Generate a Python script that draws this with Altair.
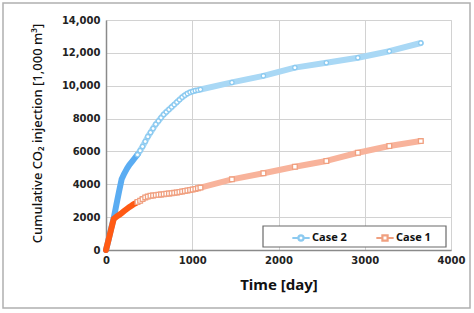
import altair as alt
import pandas as pd

# Case 2 (blue, circles)
c2_early_day = [0, 31, 59, 90, 120, 151, 181, 212, 243, 273, 304, 334, 365]
c2_early_val = [0, 650, 1300, 1950, 2750, 3550, 4300, 4650, 4950, 5200, 5400, 5600, 5800]
c2_day = [365, 396, 424, 455, 485, 516, 546, 577, 608, 638, 669, 699, 730, 761, 791, 822,
          852, 883, 914, 944, 975, 1005, 1036, 1066, 1095, 1460, 1825, 2190, 2555, 2920, 3285, 3650]
c2_val = [5800, 6050, 6300, 6600, 6900, 7150, 7400, 7650, 7850, 8050, 8250, 8400, 8550, 8700, 8850, 9000,
          9150, 9300, 9420, 9520, 9600, 9650, 9700, 9730, 9770, 10200, 10600, 11100, 11400, 11700, 12100, 12600]

# Case 1 (orange, squares)
c1_early_day = [0, 31, 59, 90, 120, 151, 181, 212, 243, 273, 304, 334, 365]
c1_early_val = [0, 650, 1250, 1900, 2020, 2130, 2250, 2380, 2500, 2620, 2730, 2830, 2920]
c1_day = [365, 396, 424, 455, 485, 516, 546, 577, 608, 638, 669, 699, 730, 761, 791, 822,
          852, 883, 914, 944, 975, 1005, 1036, 1066, 1095, 1460, 1825, 2190, 2555, 2920, 3285, 3650]
c1_val = [2920, 3000, 3100, 3200, 3250, 3300, 3320, 3340, 3360, 3380, 3400, 3420, 3440, 3460, 3480, 3500,
          3530, 3560, 3590, 3620, 3650, 3680, 3720, 3760, 3800, 4300, 4670, 5070, 5420, 5920, 6330, 6630]

series_names = ["Case 2", "Case 1"]
light_colors = ["#a9d8f5", "#f8b39b"]
dark_colors = ["#5aacf2", "#ff5a14"]
marker_colors = ["#8ccaf0", "#f0a080"]

x_ticks = [0, 1000, 2000, 3000, 4000]
y_ticks = [0, 2000, 4000, 6000, 8000, 10000, 12000, 14000]

df2e = pd.DataFrame({"day": c2_early_day, "val": c2_early_val})
df2 = pd.DataFrame({"day": c2_day, "val": c2_val})
df1e = pd.DataFrame({"day": c1_early_day, "val": c1_early_val})
df1 = pd.DataFrame({"day": c1_day, "val": c1_val})
df_leg = pd.DataFrame({"day": c2_day + c1_day, "val": c2_val + c1_val,
                       "series": ["Case 2"] * len(c2_day) + ["Case 1"] * len(c1_day)})

x_enc = alt.X("day:Q", scale=alt.Scale(domain=[0, 4000], nice=False, zero=False),
              axis=alt.Axis(values=x_ticks, title="Time [day]", labelFont="DejaVu Sans",
                            labelExpr="datum.value", labelFlush=False,
                            labelFontWeight="bold", labelFontSize=10, labelColor="#222",
                            labelPadding=5, tickSize=0, domainColor="#8a8a8a", domainWidth=1.5,
                            gridColor="#d2d2d2", titleFont="Noto Sans", titleFontSize=15,
                            titleFontWeight="bold", titleColor="#111", titlePadding=12,
                            labelOverlap=False))
y_enc = alt.Y("val:Q", scale=alt.Scale(domain=[0, 14000], nice=False, zero=False),
              axis=alt.Axis(values=y_ticks, title="Cumulative CO₂ injection [1,000 m³]",
                            labelExpr="datum.value >= 10000 ? format(datum.value, ',') : datum.value",
                            labelFont="DejaVu Sans", labelFontWeight="bold", labelFontSize=10,
                            labelColor="#222", labelPadding=6, tickSize=0, domainColor="#8a8a8a",
                            domainWidth=1.5, gridColor="#d2d2d2", titleFont="Noto Sans",
                            titleFontSize=13, titleFontWeight=500, titleColor="#111",
                            titleX=-69, titleY=113, titleAngle=-90, titleAlign="center",
                            titleBaseline="middle", labelOverlap=False, labelFlush=False))


def line(df, color, width=6):
    return alt.Chart(df).mark_line(color=color, strokeWidth=width, strokeCap="round",
                                   strokeJoin="round").encode(x=x_enc, y=y_enc)


def pts(df, color, shape, size):
    return alt.Chart(df).mark_point(shape=shape, filled=False, fill="white", fillOpacity=1,
                                    stroke=color, strokeWidth=1.3, size=size, opacity=1
                                    ).encode(x=x_enc, y=y_enc)


frame = alt.Chart(pd.DataFrame({"a": [0]})).mark_rect(
    fill="transparent", stroke="#b0b0b0", strokeWidth=1.5
).encode(x=alt.value(-103), x2=alt.value(364), y=alt.value(-17), y2=alt.value(288))

legend_box = alt.Chart(pd.DataFrame({"a": [0]})).mark_rect(
    fill="white", stroke="#6a6a6a", strokeWidth=1.2
).encode(x=alt.value(157), x2=alt.value(340), y=alt.value(206), y2=alt.value(227))

legend_layer = alt.Chart(df_leg).mark_point(opacity=0).encode(
    x=x_enc, y=y_enc,
    color=alt.Color("series:N", scale=alt.Scale(domain=series_names, range=marker_colors),
                    legend=alt.Legend(title=None, orient="none", legendX=185, legendY=208,
                                      direction="horizontal", columns=2, columnPadding=24,
                                      padding=0,
                                      labelFont="Noto Sans", labelFontSize=11,
                                      labelFontWeight="bold", labelColor="#111",
                                      symbolOpacity=1, symbolSize=300, symbolStrokeWidth=2.2,
                                      symbolFillColor="white", labelOffset=1,
                                      offset=0)),
    shape=alt.Shape("series:N", scale=alt.Scale(
        domain=series_names,
        range=["M-1,0H-0.3M0.3,0H1M0.3,0A0.3,0.3,0,1,1,-0.3,0A0.3,0.3,0,1,1,0.3,0",
               "M-1,0H-0.3M0.3,0H1M-0.3,-0.3H0.3V0.3H-0.3Z"]))
)

chart = alt.layer(
    line(df2, light_colors[0]),
    line(df1, light_colors[1]),
    line(df2e, dark_colors[0]),
    line(df1e, dark_colors[1]),
    pts(df2, marker_colors[0], "circle", 18),
    pts(df1, marker_colors[1], "square", 22),
    legend_box,
    legend_layer,
    frame,
).properties(
    width=345, height=230,
    autosize=alt.AutoSizeParams(type="none"),
    padding={"left": 106, "top": 20, "right": 23, "bottom": 63},
).configure_view(stroke="#8a8a8a", strokeWidth=1.5).configure(background="white")

chart.save("out.html", embed_options={"renderer": "svg", "actions": False})
